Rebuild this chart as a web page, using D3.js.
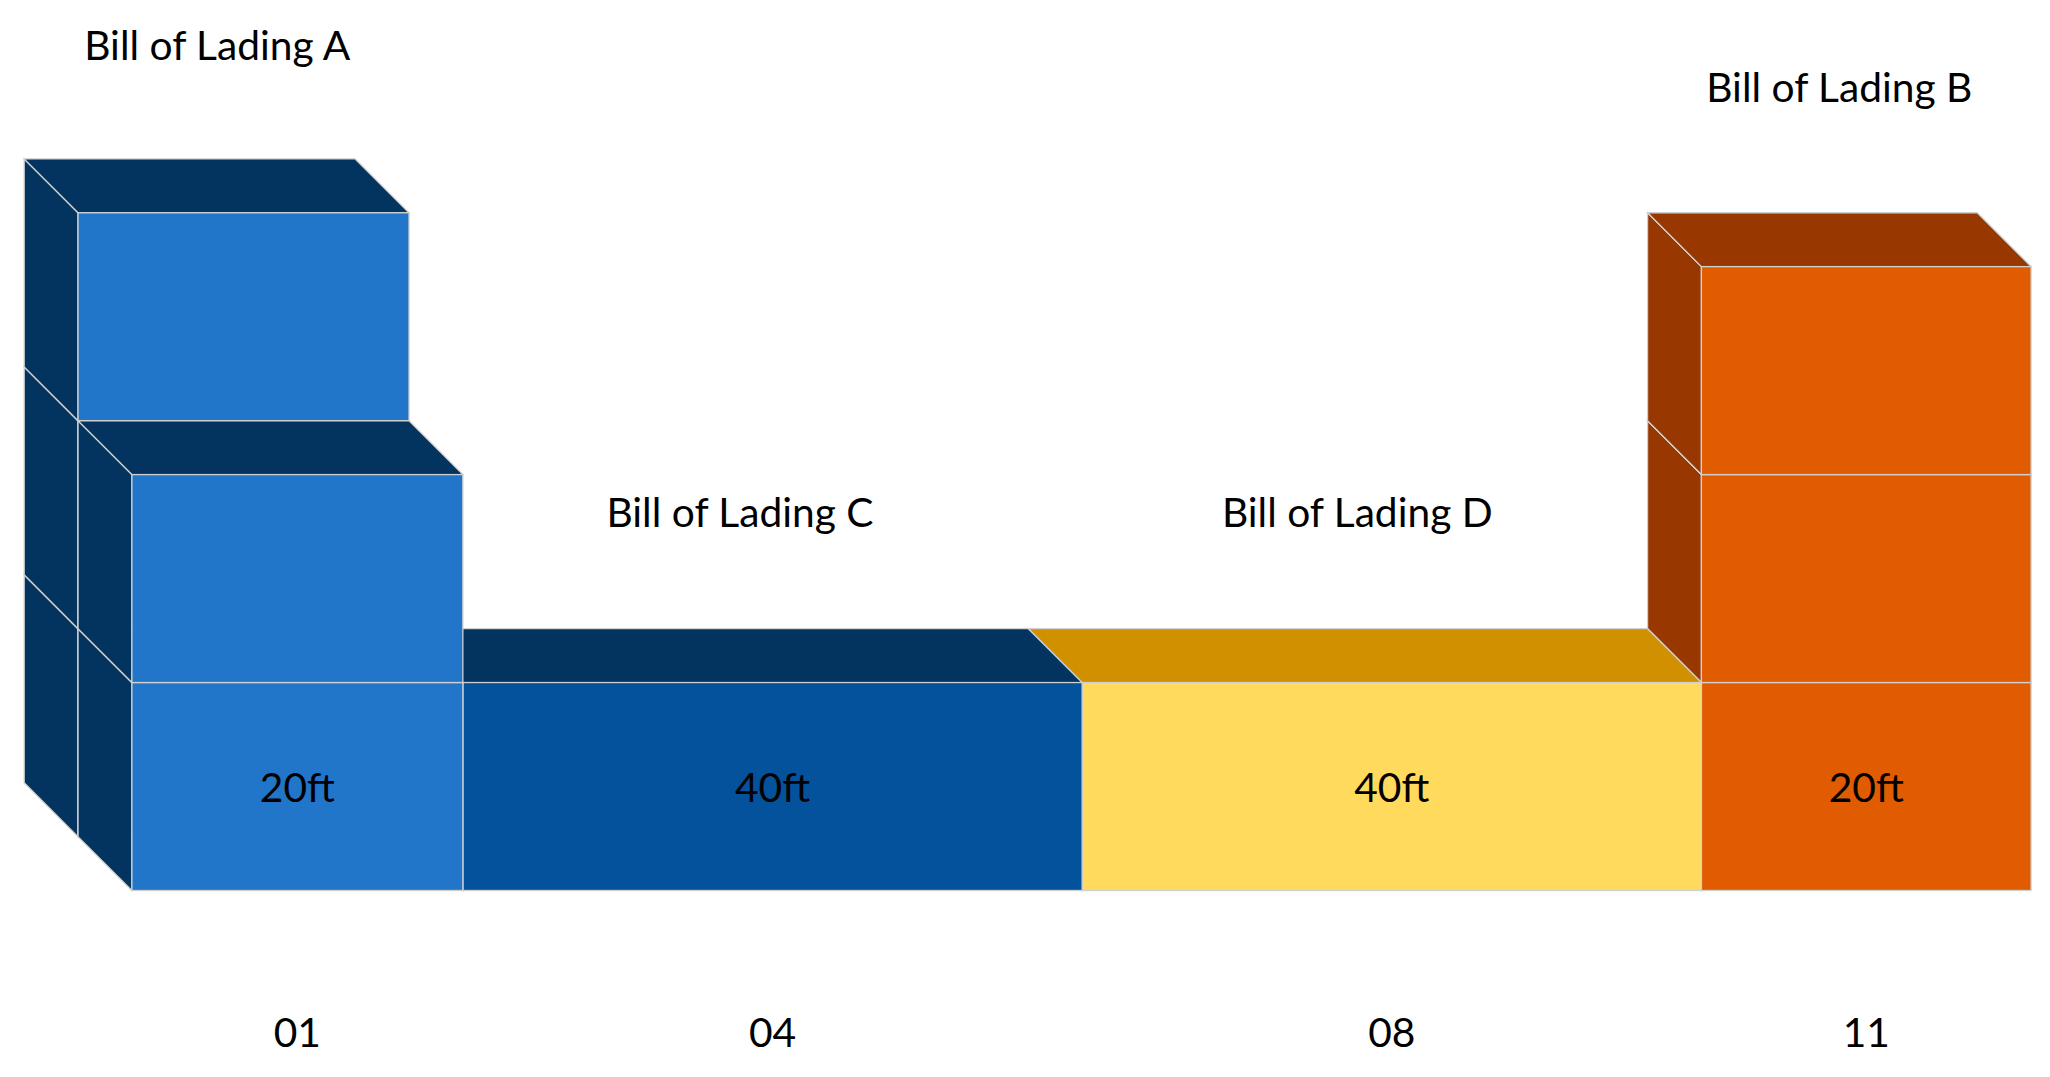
<!DOCTYPE html>
<html><head><meta charset="utf-8">
<script src="https://cdn.jsdelivr.net/npm/d3@7"></script>
<style>body{margin:0;background:#fff}</style>
</head><body><div id="chart"></div>
<script>
// data
const categories = ['01', '04', '08', '11']
const sizes = ['20ft', '40ft', '40ft', '20ft']
const starts = [0, 20, 60, 100] // ft along the row
const widths = [20, 40, 40, 20]
const frontStack = [2, 1, 1, 3] // cubes at depth 0
const backStack = [3, 0, 0, 0] // cubes at depth 1
const bills = ['Bill of Lading A', 'Bill of Lading C', 'Bill of Lading D', 'Bill of Lading B']
const frontColors = ['#2176c9', '#04529b', '#ffda5c', '#e15b00']
const darkColors = ['#03345f', '#03345f', '#d09000', '#983800']

const W = 1560, H = 820, D = 41
const svg = d3.select('#chart').append('svg')
  .attr('width', 2050).attr('height', 1077)
  .attr('viewBox', `0 0 ${W} ${H}`)

const x = d3.scaleLinear().domain([0, 20, 100, 120]).range([100, 352, 1295, 1546])
const y = d3.scaleLinear().domain([0, 3]).range([678, 203])

function cube (i, level, depth) {
  const x0 = x(starts[i]) - depth * D, x1 = x(starts[i] + widths[i]) - depth * D
  const yb = y(level) - depth * D, yt = y(level + 1) - depth * D
  const g = svg.append('g').attr('stroke', '#d0d0d0').attr('stroke-width', 1)
  g.append('path').attr('fill', darkColors[i])
    .attr('d', `M${x0},${yb}L${x0 - D},${yb - D}L${x0 - D},${yt - D}L${x0},${yt}Z`)
  g.append('path').attr('fill', darkColors[i])
    .attr('d', `M${x0},${yt}L${x0 - D},${yt - D}L${x1 - D},${yt - D}L${x1},${yt}Z`)
  g.append('rect').attr('fill', frontColors[i])
    .attr('x', x0).attr('y', yt).attr('width', x1 - x0).attr('height', yb - yt)
}

// right to left so each front face hides the neighbour's side face
d3.range(categories.length - 1, -1, -1).forEach(i => {
  for (let l = 0; l < backStack[i]; l++) cube(i, l, 1)
  for (let l = 0; l < frontStack[i]; l++) cube(i, l, 0)
})

const font = 'Lato, "Open Sans", sans-serif'
const cx = i => x(starts[i] + widths[i] / 2)
svg.selectAll('.size').data(sizes).join('text')
  .attr('x', (d, i) => cx(i)).attr('y', 611).attr('text-anchor', 'middle')
  .attr('font-family', font).attr('font-size', 31).text(d => d)
svg.selectAll('.cat').data(categories).join('text')
  .attr('x', (d, i) => cx(i)).attr('y', 797).attr('text-anchor', 'middle')
  .attr('font-family', font).attr('font-size', 31).text(d => d)

const billX = [165, 563, 1033, 1400]
const billY = [46, 401, 401, 78]
svg.selectAll('.bill').data(bills).join('text')
  .attr('x', (d, i) => billX[i]).attr('y', (d, i) => billY[i])
  .attr('text-anchor', 'middle').attr('font-family', font).attr('font-size', 31)
  .text(d => d)
</script></body></html>
